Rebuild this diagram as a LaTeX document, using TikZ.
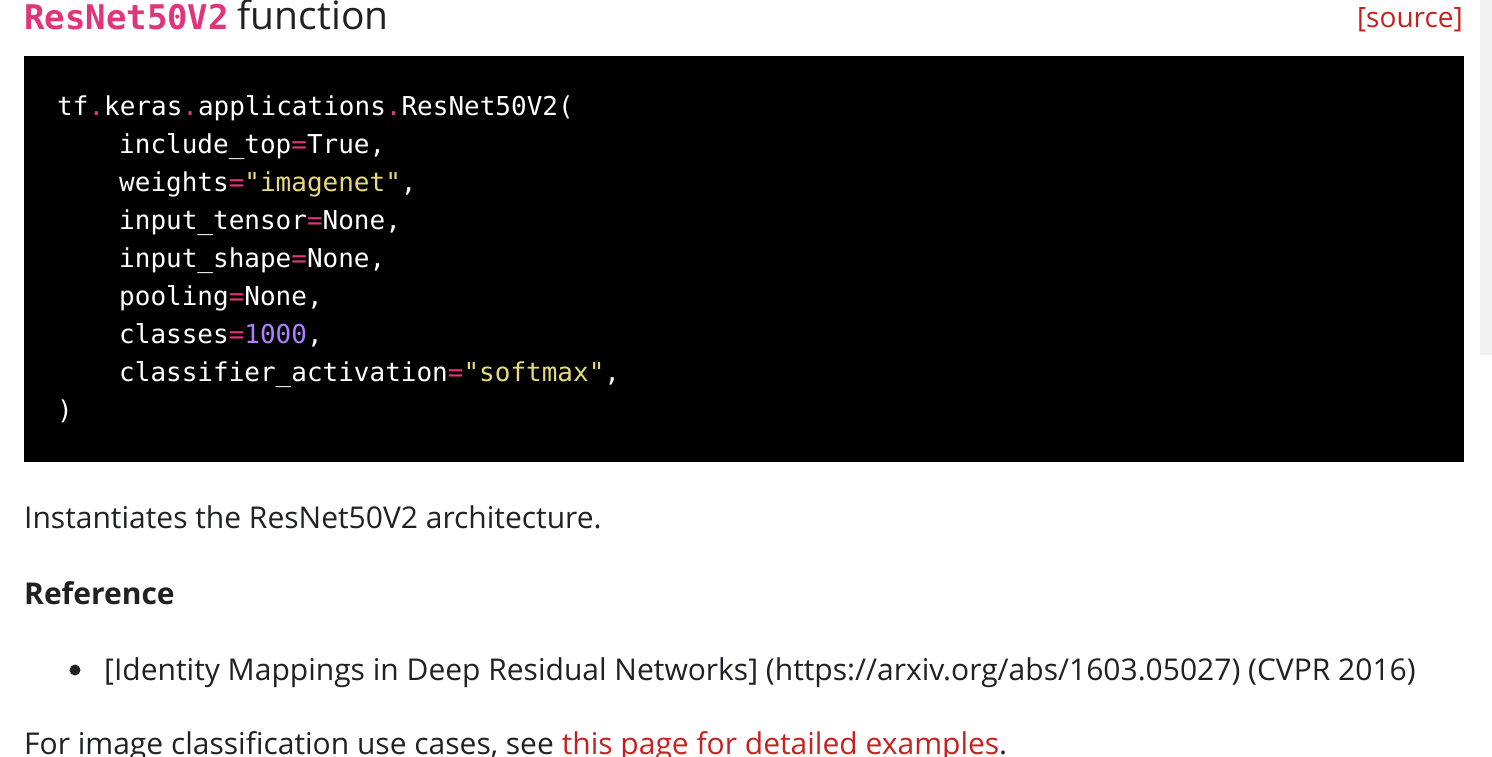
\documentclass[tikz,border=0pt]{standalone}
\usepackage{fontspec}
\setmainfont{Open Sans}
\setmonofont{DejaVu Sans Mono}
\definecolor{pk}{HTML}{E0357A}
\definecolor{yl}{HTML}{E6DB74}
\definecolor{pu}{HTML}{AE81FF}
\definecolor{rd}{HTML}{C5221F}
\definecolor{tx}{HTML}{202124}
\newcommand{\pkc}[1]{\textcolor{pk}{#1}}
\newcommand{\ylc}[1]{\textcolor{yl}{#1}}
\tikzset{code/.style={anchor=base west,inner sep=0pt,text=white,font=\fontsize{26}{30}\selectfont\ttfamily},
body/.style={anchor=base west,inner sep=0pt,text=tx,font=\fontsize{30}{34}\selectfont}}
\begin{document}
\begin{tikzpicture}[x=1pt,y=-1pt]
\useasboundingbox[fill=white] (0,0) rectangle (1492,756);
\fill[black!6] (1480,0) rectangle (1492,355);
\node[anchor=base west,inner sep=0pt,font=\fontsize{34}{38}\selectfont] (title) at (24,29) {\textcolor{pk}{\ttfamily\bfseries ResNet50V2} \textcolor{tx}{\fontsize{39}{42}\selectfont function}};
\node[anchor=base east,inner sep=0pt,text=rd,font=\fontsize{28}{32}\selectfont] (src) at (1463,27) {[source]};
\fill[black] (24,56) rectangle (1464,462);
\node[code] (c1) at (57,115) {tf\pkc{.}keras\pkc{.}applications\pkc{.}ResNet50V2(};
\node[code] (c2) at (119,153) {include\_top\pkc{=}True,};
\node[code] (c3) at (119,191) {weights\pkc{=}\ylc{"imagenet"},};
\node[code] (c4) at (119,229) {input\_tensor\pkc{=}None,};
\node[code] (c5) at (119,267) {input\_shape\pkc{=}None,};
\node[code] (c6) at (119,305) {pooling\pkc{=}None,};
\node[code] (c7) at (119,343) {classes\pkc{=}\textcolor{pu}{1000},};
\node[code] (c8) at (119,381) {classifier\_activation\pkc{=}\ylc{"softmax"},};
\node[code] (c9) at (57,419) {)};
\node[body] (t1) at (24,528) {Instantiates the ResNet50V2 architecture.};
\node[body,font=\fontsize{30}{34}\selectfont\bfseries] (t2) at (24,604) {Reference};
\fill[tx] (75,670) circle (5.5);
\node[body] (t3) at (104,680) {[Identity Mappings in Deep Residual Networks] (https://arxiv.org/abs/1603.05027) (CVPR 2016)};
\node[body] (t4) at (24,754) {For image classification use cases, see \textcolor{rd}{this page for detailed examples}.};
\end{tikzpicture}
\end{document}
